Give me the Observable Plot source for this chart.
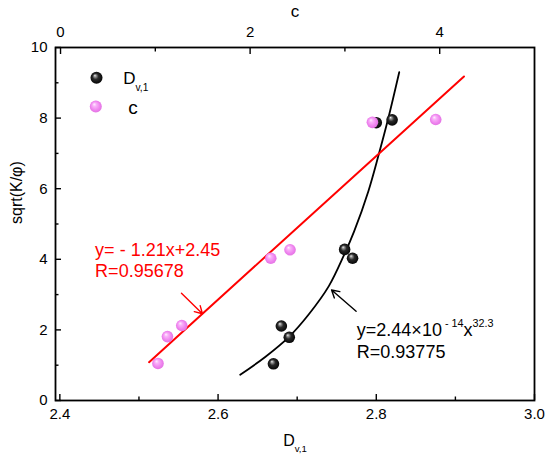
<!DOCTYPE html>
<html>
<head>
<meta charset="utf-8">
<script src="https://cdn.jsdelivr.net/npm/d3@7"></script>
<script src="https://cdn.jsdelivr.net/npm/@observablehq/plot@0.6"></script>
<style>
  html, body { margin: 0; padding: 0; background: white; }
  #chart { position: relative; width: 550px; height: 460px; }
  #chart svg text { white-space: pre; }
</style>
</head>
<body>
<div id="chart"></div>
<script>
// ---- data ----
const dv1 = [2.670, 2.680, 2.690, 2.760, 2.770, 2.800, 2.820];
const dvY = [1.04, 2.11, 1.79, 4.28, 4.03, 7.87, 7.95];
const cVals = [1.028, 1.128, 1.279, 2.218, 2.421, 3.29, 3.958];
const cY = [1.05, 1.81, 2.125, 4.03, 4.27, 7.88, 7.96];
// power-law fit curve (black)
const fitD = [2.628, 2.660, 2.690, 2.715, 2.740, 2.759, 2.772, 2.790, 2.803, 2.815, 2.829];
const fitY = [0.73, 1.24, 1.81, 2.45, 3.24, 4.11, 4.79, 5.93, 6.96, 7.98, 9.30];
// linear fit (red), endpoints
const linC = [0.934, 4.256];
const linY = [1.085, 9.18];
// ticks
const dTicks = [2.4, 2.6, 2.8, 3.0];
const dMinor = [2.5, 2.7, 2.9];
const cTicks = [0, 2, 4];
const cMinor = [1, 3];
const yTicks = [0, 2, 4, 6, 8, 10];
const yMinor = [1, 3, 5, 7, 9];
// annotations
const blackNote = [
  {D: 2.7754, y: 1.84, label: "y=2.44×10^{ - 14}x^{32.3}"},
  {D: 2.7754, y: 1.21, label: "R=0.93775"}
];
const redNote = [
  {c: 0.365, y: 4.08, label: "y= - 1.21x+2.45"},
  {c: 0.365, y: 3.51, label: "R=0.95678"}
];
const blackArrow = [{x1: 2.7745, y1: 2.53, x2: 2.7435, y2: 3.13}];
const redArrow = [{x1: 1.276, y1: 3.04, x2: 1.497, y2: 2.457}];

const blackPts = dv1.map((d, i) => ({D: d, y: dvY[i]}));
const pinkPts = cVals.map((c, i) => ({c, y: cY[i]}));
const fitPts = fitD.map((d, i) => ({D: d, y: fitY[i]}));
const linPts = linC.map((c, i) => ({c, y: linY[i]}));

const FONT = "'Liberation Sans', Arial, Helvetica, sans-serif";
const common = {
  width: 550, height: 460,
  marginLeft: 55, marginRight: 16, marginTop: 47, marginBottom: 60,
  style: {fontFamily: FONT, fontSize: "15px", color: "black", background: "transparent", overflow: "visible"}
};
const BLK = "#010101", PNK = "#fe01fe";

const A = Plot.plot({
  ...common,
  x: {domain: [2.3945, 3.0], axis: null},
  y: {domain: [0, 10], axis: null},
  marks: [
    Plot.axisX({anchor: "bottom", ticks: dTicks, tickSize: 6, insetBottom: 6, tickPadding: 8,
      tickFormat: d3.format(".1f"), label: null, fontSize: 15, strokeWidth: 1.4}),
    Plot.axisX({anchor: "bottom", ticks: dMinor, tickSize: 3.5, insetBottom: 3.5,
      tickFormat: () => "", label: null, strokeWidth: 1.4}),
    Plot.axisY({anchor: "left", ticks: yTicks, tickSize: 6, insetLeft: 6, tickPadding: 8,
      tickFormat: d3.format("d"), label: null, fontSize: 15, strokeWidth: 1.4}),
    Plot.axisY({anchor: "left", ticks: yMinor, tickSize: 3.5, insetLeft: 3.5,
      tickFormat: () => "", label: null, strokeWidth: 1.4}),
    Plot.frame({stroke: "black", strokeWidth: 1.8}),
    Plot.line(fitPts, {x: "D", y: "y", curve: "catmull-rom", stroke: "black", strokeWidth: 1.8}),
    Plot.arrow(blackArrow, {x1: "x1", y1: "y1", x2: "x2", y2: "y2", stroke: "black", strokeWidth: 1.4, headLength: 9}),
    Plot.dot(blackPts, {x: "D", y: "y", r: 5.8, fill: BLK}),
    Plot.text(blackNote, {x: "D", y: "y", text: "label", textAnchor: "start", lineAnchor: "bottom", fontSize: 18, fill: "black"}),
    // legend
    Plot.dot([0], {x: null, y: null, frameAnchor: "top-left", dx: 41, dy: 30.3, r: 6, fill: BLK}),
    Plot.dot([0], {x: null, y: null, frameAnchor: "top-left", dx: 40.3, dy: 59, r: 6, fill: PNK}),
    Plot.text([0], {x: null, y: null, frameAnchor: "top-left", dx: 67.7, dy: 36.3, text: () => "D_{v,1}",
      textAnchor: "start", lineAnchor: "bottom", fontSize: 17, fill: "black"}),
    Plot.text([0], {x: null, y: null, frameAnchor: "top-left", dx: 72.7, dy: 66.3, text: () => "c",
      textAnchor: "start", lineAnchor: "bottom", fontSize: 19, fill: "black"}),
    // axis titles
    Plot.text([0], {x: null, y: null, frameAnchor: "bottom", dy: 45, text: () => "D_{v,1}",
      lineAnchor: "bottom", fontSize: 16, fill: "black"}),
    Plot.text([0], {x: null, y: null, frameAnchor: "left", dx: -39, rotate: -90, text: () => "sqrt(K/φ)",
      lineAnchor: "middle", fontSize: 16, fill: "black"})
  ]
});

const B = Plot.plot({
  ...common,
  x: {domain: [-0.053, 5.0], axis: null},
  y: {domain: [0, 10], axis: null},
  marks: [
    Plot.axisX({anchor: "top", ticks: cTicks, tickSize: 6, insetTop: 6, tickPadding: 11,
      tickFormat: d3.format("d"), label: null, fontSize: 15, strokeWidth: 1.4}),
    Plot.axisX({anchor: "top", ticks: cMinor, tickSize: 3.5, insetTop: 3.5,
      tickFormat: () => "", label: null, strokeWidth: 1.4}),
    Plot.line(linPts, {x: "c", y: "y", stroke: "#ff0000", strokeWidth: 2}),
    Plot.arrow(redArrow, {x1: "x1", y1: "y1", x2: "x2", y2: "y2", stroke: "#ff0000", strokeWidth: 1.4, headLength: 9}),
    Plot.dot(pinkPts, {x: "c", y: "y", r: 5.8, fill: PNK}),
    Plot.text(redNote, {x: "c", y: "y", text: "label", textAnchor: "start", lineAnchor: "bottom", fontSize: 18, fill: "#ff0000"}),
    Plot.text([0], {x: null, y: null, frameAnchor: "top", dy: -31, text: () => "c",
      lineAnchor: "bottom", fontSize: 17, fill: "black"})
  ]
});

const chart = document.getElementById("chart");
chart.appendChild(A);
B.style.position = "absolute";
B.style.left = "0px";
B.style.top = "0px";
chart.appendChild(B);

function addGradients(svg, suffix) {
  const defs = d3.select(svg).insert("defs", ":first-child");
  const mk = (id, stops) => {
    const g = defs.append("radialGradient").attr("id", id)
      .attr("cx", "0.5").attr("cy", "0.5").attr("r", "0.55").attr("fx", "0.36").attr("fy", "0.3");
    stops.forEach(([o, c]) => g.append("stop").attr("offset", o).attr("stop-color", c));
  };
  mk("gBlack" + suffix, [[0, "#f4f4f4"], [0.16, "#9a9a9a"], [0.45, "#2a2a2a"], [1, "#000"]]);
  mk("gPink" + suffix, [[0, "#fff2ff"], [0.28, "#f9b0f9"], [0.7, "#ee82ee"], [1, "#e070e0"]]);
  d3.select(svg).selectAll(`[fill="${BLK}"]`).attr("fill", `url(#gBlack${suffix})`);
  d3.select(svg).selectAll(`[fill="${PNK}"]`).attr("fill", `url(#gPink${suffix})`);
}
addGradients(A, "A");
addGradients(B, "B");

function richify(svg) {
  svg.querySelectorAll("text").forEach(t => {
    const s = t.textContent;
    if (!/[_^]\{/.test(s)) return;
    const fs = parseFloat(getComputedStyle(t).fontSize) || 16;
    t.textContent = "";
    const re = /([_^])\{([^}]*)\}/g;
    let last = 0, m, shift = 0;
    const add = (str, kind) => {
      const ts = document.createElementNS("http://www.w3.org/2000/svg", "tspan");
      const target = kind === "_" ? 0.4 * fs : kind === "^" ? -0.45 * fs : 0;
      ts.setAttribute("dy", (target - shift).toFixed(2));
      shift = target;
      if (kind) ts.setAttribute("font-size", (0.6 * fs).toFixed(1));
      ts.textContent = str;
      t.appendChild(ts);
    };
    while ((m = re.exec(s))) {
      if (m.index > last) add(s.slice(last, m.index), null);
      add(m[2], m[1]);
      last = re.lastIndex;
    }
    if (last < s.length) add(s.slice(last), null);
  });
}
richify(A);
richify(B);
</script>
</body>
</html>
